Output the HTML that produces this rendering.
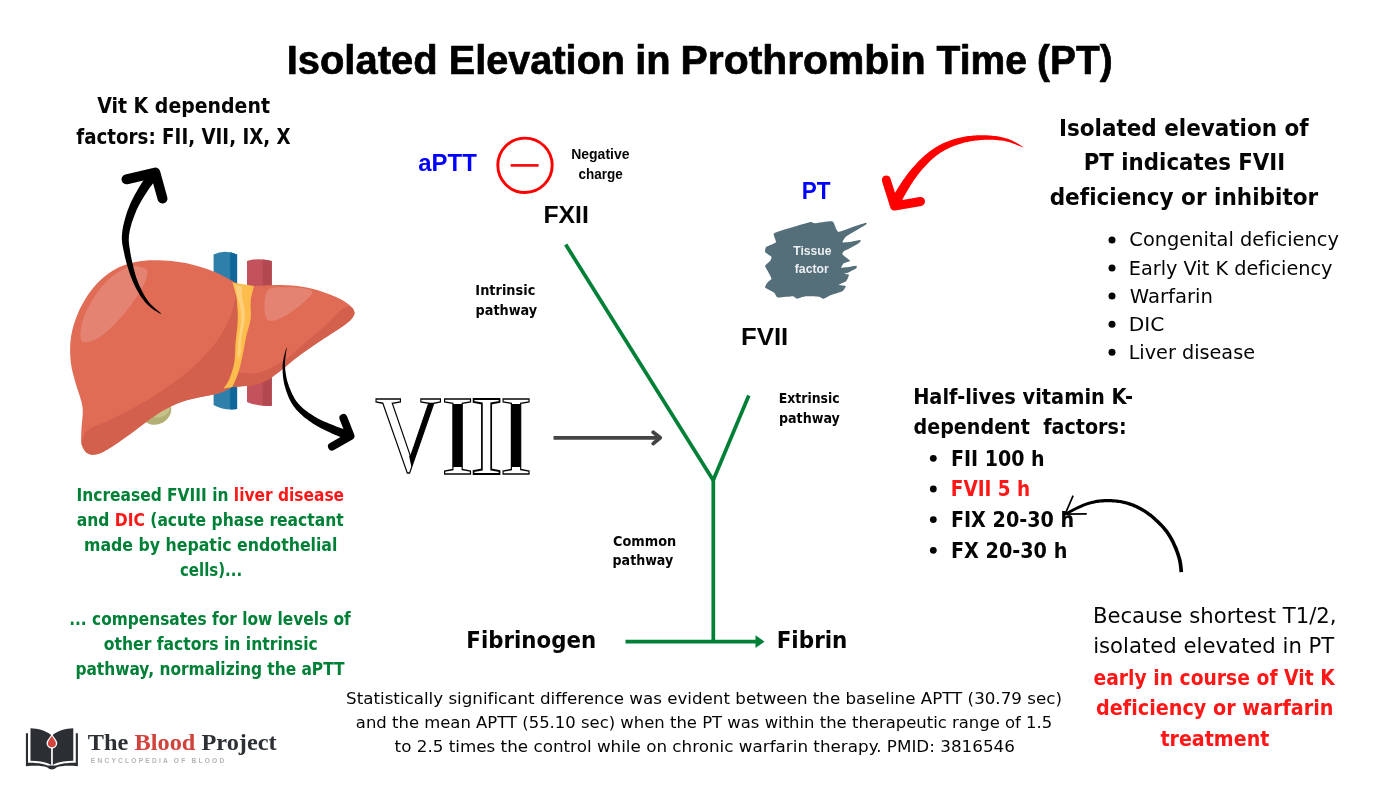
<!DOCTYPE html>
<html lang="en"><head><meta charset="utf-8">
<title>Isolated Elevation in Prothrombin Time (PT)</title>
<style>html,body{margin:0;padding:0;background:#fff;}body{width:1400px;height:788px;overflow:hidden;}svg{display:block;}text{white-space:pre;font-variant-ligatures:none;font-kerning:normal;}</style>
</head><body>
<svg width="1400" height="788" viewBox="0 0 1400 788">
<rect width="1400" height="788" fill="#ffffff"/>
<g id="liver">
<path d="M213.6 254.5Q225 249 237.1 254.5L237.1 409Q225 411 213.6 405Z" fill="#2f7fab"/>
<path d="M230.2 252L237.1 254.5L237.1 409L230.2 409.5Z" fill="#10669a"/>
<path d="M247 261Q259 257.5 271.8 261L271.8 405.7Q259 407 247 402Z" fill="#c4525c"/>
<path d="M262.6 259.5L271.8 261L271.8 405.7L262.6 405.5Z" fill="#b24850"/>
<ellipse cx="157" cy="412" rx="15" ry="12" fill="#b3ae74" transform="rotate(-30 157 412)"/>
<ellipse cx="160" cy="408" rx="11" ry="9" fill="#c6c28c" transform="rotate(-30 160 408)"/>
<path d="M235.5 282.6C231.8 280.8 221.8 274.8 213.5 271.5C205.2 268.2 194.9 265 185.6 263.1C176.3 261.2 166.1 260.4 157.7 260.2C149.3 260 142.8 260.3 135.4 262C128 263.7 120 266.2 113 270.5C106 274.8 99.2 280.6 93.5 287.5C87.8 294.4 82.2 303.7 78.5 312C74.8 320.3 72.3 328.7 71 337.1C69.7 345.5 70 354.3 70.8 362.2C71.6 370.1 74 377.1 76 384.5C78 391.9 81.6 399.4 82.5 406.9C83.4 414.3 81.7 423 81.5 429.2C81.3 435.4 80.6 440 81.5 444C82.4 448 84.4 451.3 87 453C89.6 454.7 92.9 455.3 97 454.3C101.1 453.3 105.5 450.7 111.5 447C117.5 443.3 125.7 437.3 133 432C140.3 426.7 148.1 419.9 155.5 415.2C162.9 410.4 169.9 406.5 177.2 403.5C184.5 400.5 192.5 399 199.5 397.3C206.5 395.6 213.6 394.9 219 393.2C224.4 391.5 229.8 388 232 387L240 340Z" fill="#e06c55"/>
<path d="M234.5 282.3C234.6 285.2 236.1 293.4 235 300C233.9 306.6 231.5 314.5 228 322C224.5 329.5 220.3 337 214 345C207.7 353 199 362.2 190 370C181 377.8 170 385.3 160 392C150 398.7 139.2 405 130 410C120.8 415 112 418.7 105 422C98 425.3 91.8 427 88 430C84.2 433 83.4 438.3 82.5 440L81.5 444C82.4 445.5 84.4 451.3 87 453C89.6 454.7 92.9 455.3 97 454.3C101.1 453.3 105.5 450.7 111.5 447C117.5 443.3 125.7 437.3 133 432C140.3 426.7 148.1 419.9 155.5 415.2C162.9 410.4 169.9 406.5 177.2 403.5C184.5 400.5 192.5 399 199.5 397.3C206.5 395.6 213.6 394.9 219 393.2C224.4 391.5 229.8 388 232 387L240 340L236 283Z" fill="#d2604c"/>
<path d="M145 268.5C141.8 267.3 134.8 264.4 128 267C121.2 269.6 111 276.5 104 284C97 291.5 89.9 303.7 86 312C82.1 320.3 80.7 328.9 80.5 334C80.3 339.1 81.1 342.5 85 342.5C88.9 342.5 96.8 339.6 104 334C111.2 328.4 121.5 317 128 309C134.5 301 139.8 291.8 143 286C146.2 280.2 146.7 276.9 147 274C147.3 271.1 148.2 269.7 145 268.5Z" fill="#e58373"/>
<path d="M240 285.5C242.2 285.6 247 286.1 252.9 286C258.8 285.9 268.1 284.9 275.5 284.9C282.9 284.9 289.9 285.1 297.1 286C304.3 286.9 311.5 288.3 318.7 290.5C325.9 292.7 334.8 296.3 340.2 299C345.6 301.7 348.6 304.2 351 306.5C353.4 308.8 354.6 310.9 354.6 313C354.6 315.1 353.4 316.9 351 319.4C348.6 321.9 345.6 324.3 340.2 328.1C334.8 331.9 325.9 337.2 318.7 342.1C311.5 347 303.2 352.6 297.1 357.2C291 361.8 286.7 365.9 282 369.5C277.3 373.1 273.7 376.4 269 379C264.3 381.6 260 383.7 253.9 385C247.8 386.3 236 386.7 232.4 387Z" fill="#e06c55"/>
<path d="M236 372C239.7 372.2 250.3 374.7 258 373C265.7 371.3 274.2 367 282 362C289.8 357 297.5 349.3 305 343C312.5 336.7 321 329.5 327 324C333 318.5 337.5 312.9 341 310C344.5 307.1 346.1 306.8 348 306.5C349.9 306.2 351.8 307.8 352.5 308L354.6 313C354 314.1 353.4 316.9 351 319.4C348.6 321.9 345.6 324.3 340.2 328.1C334.8 331.9 325.9 337.2 318.7 342.1C311.5 347 303.2 352.6 297.1 357.2C291 361.8 286.7 365.9 282 369.5C277.3 373.1 273.7 376.4 269 379C264.3 381.6 260 383.7 253.9 385C247.8 386.3 236 386.7 232.4 387Z" fill="#d2604c"/>
<path d="M268 290C271.8 286.4 280.5 287.5 287 287.3C293.5 287.1 302.8 288 307 289C311.2 290 313.5 290.5 312 293.5C310.5 296.5 303 303 298 307C293 311 286.9 315.2 282 317.5C277.1 319.8 271.4 321.9 268.5 320.5C265.6 319.1 264.6 314.1 264.5 309C264.4 303.9 264.2 293.6 268 290Z" fill="#e58373"/>
<path d="M232.4 282.5C233.1 285.2 235.8 292.6 236.7 298.9C237.6 305.2 238 313.3 237.8 320.5C237.6 327.7 236.2 335.3 235.6 342.1C235 348.9 235.5 355.4 234.5 361.5C233.5 367.6 231.3 374.3 229.5 378.8C227.7 383.3 224.5 386.9 223.5 388.5L232.4 387C233.4 384.6 236.7 378 238.5 372.3C240.3 366.6 241.8 359 243.1 352.9C244.4 346.8 245.1 341.4 246.4 335.6C247.7 329.9 250 324.1 250.7 318.4C251.4 312.6 250.2 306.5 250.7 301.1C251.2 295.7 253.4 288.5 253.9 286Z" fill="#fdbd4c"/>
<path d="M235 285L242 286.5Q241 296 244 306Q246 318 243 330Q240 342 241 352L238 360Q237 345 240 330Q242 318 240 306Q237 296 235 285Z" fill="#fed07c"/>
</g>
<path d="M161.3 313.9L160.6 313L159.5 312L158.2 310.9L156.7 309.7L155.2 308.4L153.6 307L152 305.5L150.4 303.9L149 302.3L147.7 300.6L146.5 298.8L145.2 296.8L144 294.8L142.8 292.6L141.7 290.4L140.6 288.1L139.5 285.7L138.4 283.2L137.5 280.7L136.5 278.2L135.6 275.4L134.8 272.5L133.9 269.4L133.2 266.3L132.4 263L131.7 259.8L131.1 256.7L130.5 253.7L130.1 251L129.7 248.4L129.3 246.2L129.1 244.3L128.9 242.5L128.8 240.9L128.8 239.4L128.8 238L128.9 236.6L129 235.1L129.3 233.4L129.6 231.6L130 229.6L130.5 227.5L131.1 225.3L131.7 223.1L132.5 220.8L133.3 218.5L134.1 216.2L135 213.9L135.9 211.7L136.8 209.6L137.8 207.6L138.8 205.5L139.9 203.5L141 201.4L142.2 199.4L143.4 197.4L144.6 195.5L145.8 193.7L146.9 192L147.9 190.4L148.8 189L149.7 187.7L150.6 186.5L151.5 185.4L152.3 184.3L153.1 183.3L153.8 182.4L154.6 181.5L155.2 180.7L155.8 179.9L156.3 179.3L156.7 178.9L157 178.5L157.2 178.2L157.4 178.1L157.5 177.9L157.7 177.8L157.8 177.6L158 177.4L158.2 177.2L150.8 170.8L150.7 170.9L150.7 170.9L150.6 171.1L150.4 171.3L150.1 171.6L149.8 171.9L149.5 172.3L149.1 172.8L148.6 173.4L148.2 174.1L147.6 174.8L147 175.6L146.4 176.5L145.6 177.5L144.8 178.6L143.9 179.8L143 181.1L142 182.5L141.1 184L140.1 185.6L139.1 187.2L138.1 189L137 190.9L135.8 193L134.6 195.1L133.5 197.3L132.3 199.5L131.2 201.8L130.2 204.1L129.2 206.4L128.3 208.7L127.4 211.1L126.6 213.5L125.8 216L125.1 218.5L124.4 221L123.8 223.4L123.2 225.8L122.8 228.2L122.4 230.4L122.2 232.5L122 234.4L121.9 236.2L121.8 237.9L121.9 239.7L122 241.4L122.2 243.3L122.5 245.2L122.9 247.3L123.3 249.6L123.9 252.1L124.5 255L125.2 258L126 261.2L126.9 264.4L127.9 267.7L128.9 270.9L129.9 274.1L131 277L132.1 279.8L133.2 282.5L134.4 285L135.6 287.5L136.9 289.9L138.3 292.3L139.6 294.5L141 296.7L142.4 298.7L143.9 300.6L145.3 302.4L146.9 304.1L148.6 305.8L150.4 307.3L152.2 308.7L154 309.9L155.8 311L157.4 312L158.8 312.9L160.1 313.6L161.1 314.1Z" fill="#000"/>
<path d="M126.5 179.3L155.3 172.6L162.5 198.5" fill="none" stroke="#000" stroke-width="10" stroke-linecap="round" stroke-linejoin="round"/>
<path d="M286.4 347.8L286 348.8L285.7 350.1L285.2 351.7L284.8 353.4L284.3 355.3L283.8 357.3L283.4 359.4L283 361.5L282.8 363.5L282.6 365.5L282.6 367.4L282.6 369.3L282.6 371.3L282.7 373.3L282.9 375.3L283.1 377.4L283.4 379.4L283.7 381.5L284.1 383.5L284.6 385.6L285.2 387.6L285.8 389.7L286.5 391.8L287.3 393.9L288.1 396L289 398.2L290 400.3L291.1 402.3L292.3 404.3L293.6 406.2L295 408.1L296.5 409.9L298.1 411.6L299.8 413.2L301.5 414.8L303.3 416.4L305.1 417.9L307 419.3L308.9 420.7L310.8 422.1L312.8 423.5L314.9 424.8L317 426L319.2 427.2L321.5 428.4L323.6 429.5L325.7 430.5L327.8 431.4L329.6 432.3L331.4 433.2L333.1 434L334.7 434.7L336.3 435.3L337.8 435.9L339.2 436.4L340.4 436.9L341.6 437.3L342.7 437.7L343.6 438.1L344.5 438.4L345.2 438.7L345.8 439L346.3 439.2L346.7 439.4L347 439.5L347.2 439.6L347.5 439.8L347.7 439.9L347.9 440L348.2 440.1L351.8 431.9L351.7 431.8L351.5 431.8L351.3 431.7L351 431.5L350.6 431.4L350.2 431.2L349.7 431L349.1 430.8L348.4 430.5L347.5 430.2L346.6 429.9L345.5 429.5L344.4 429.2L343.2 428.8L341.9 428.4L340.6 428L339.2 427.5L337.7 427L336.2 426.5L334.6 425.8L332.8 425.1L330.9 424.3L328.9 423.5L326.8 422.6L324.6 421.7L322.5 420.7L320.4 419.7L318.3 418.7L316.3 417.6L314.4 416.5L312.6 415.3L310.8 414.1L308.9 412.9L307.1 411.6L305.4 410.2L303.7 408.9L302.1 407.4L300.6 406L299.1 404.5L297.8 403L296.6 401.4L295.4 399.7L294.3 397.9L293.3 396.1L292.3 394.2L291.4 392.2L290.6 390.3L289.8 388.3L289 386.4L288.4 384.4L287.7 382.6L287.2 380.7L286.7 378.8L286.3 376.8L286 374.9L285.7 373L285.4 371.1L285.2 369.2L285.1 367.3L285 365.5L285 363.6L285 361.7L285.2 359.6L285.4 357.6L285.7 355.6L285.9 353.6L286.2 351.9L286.4 350.3L286.6 348.9L286.6 347.8Z" fill="#000"/>
<path d="M343.4 418L350.5 436L332 446.5" fill="none" stroke="#000" stroke-width="8" stroke-linecap="round" stroke-linejoin="round"/>
<path d="M1023.1 147L1022.3 146.4L1021.3 145.7L1020 144.9L1018.7 144.1L1017.1 143.2L1015.5 142.3L1013.8 141.4L1012.1 140.6L1010.4 139.8L1008.8 139.2L1007.2 138.6L1005.6 138.2L1003.9 137.7L1002.2 137.3L1000.5 137L998.8 136.6L997.1 136.3L995.4 136.1L993.7 135.9L992.1 135.7L990.4 135.5L988.7 135.4L987 135.3L985.3 135.2L983.7 135.2L982 135.2L980.3 135.2L978.6 135.3L976.9 135.3L975.2 135.4L973.6 135.6L971.9 135.7L970.2 135.9L968.5 136.1L966.8 136.3L965.1 136.6L963.3 136.9L961.6 137.3L959.9 137.7L958.2 138.1L956.4 138.5L954.7 139L953 139.6L951.2 140.1L949.5 140.7L947.7 141.4L946 142.1L944.3 142.8L942.5 143.6L940.8 144.4L939.2 145.3L937.6 146.2L935.9 147.2L934.3 148.2L932.8 149.2L931.2 150.3L929.6 151.5L928 152.7L926.5 154L924.9 155.3L923.3 156.7L921.7 158.2L920.1 159.7L918.5 161.3L916.9 163L915.4 164.7L913.8 166.4L912.3 168.1L910.8 169.9L909.3 171.6L907.9 173.5L906.4 175.5L905 177.5L903.5 179.5L902.1 181.6L900.8 183.6L899.6 185.5L898.4 187.3L897.3 189L896.4 190.6L895.5 192L894.7 193.4L894 194.7L893.5 195.9L893 197L892.5 197.9L892.2 198.8L891.9 199.5L891.6 200L891.4 200.5L900.6 204.5L900.8 203.9L901.1 203.2L901.4 202.5L901.7 201.7L902 200.9L902.4 200L902.8 199L903.3 197.9L903.9 196.7L904.6 195.4L905.5 194L906.5 192.3L907.5 190.5L908.7 188.5L909.9 186.6L911.1 184.5L912.4 182.5L913.7 180.6L915 178.7L916.3 177L917.5 175.3L918.9 173.5L920.2 171.8L921.6 170.2L923 168.5L924.5 166.9L925.9 165.4L927.3 163.9L928.7 162.4L930.1 161.1L931.5 159.8L932.9 158.6L934.3 157.4L935.6 156.3L937 155.3L938.4 154.2L939.8 153.3L941.2 152.3L942.7 151.4L944.2 150.6L945.6 149.7L947.2 148.9L948.7 148.2L950.2 147.5L951.8 146.8L953.4 146.2L955 145.6L956.6 145L958.2 144.4L959.8 143.9L961.4 143.4L963 143L964.6 142.6L966.2 142.2L967.7 141.9L969.3 141.6L970.9 141.3L972.5 141L974.1 140.8L975.8 140.6L977.4 140.4L979 140.2L980.6 140L982.2 139.9L983.7 139.8L985.3 139.7L986.9 139.7L988.5 139.7L990.1 139.7L991.7 139.7L993.4 139.8L995 139.9L996.7 140L998.3 140.2L1000 140.4L1001.6 140.6L1003.3 140.8L1004.9 141.1L1006.4 141.5L1008 141.8L1009.6 142.3L1011.2 142.8L1012.9 143.4L1014.6 144.1L1016.3 144.8L1018 145.5L1019.5 146.1L1020.8 146.6L1022 147L1022.9 147.2Z" fill="#ff0000"/>
<path d="M886.3 180L894.5 206L920.5 201.5" fill="none" stroke="#ff0000" stroke-width="9" stroke-linecap="round" stroke-linejoin="round"/>
<path d="M774 233.5C775.5 232.2 790 228.1 793.1 227.1C796.1 226.2 809 222.4 810.8 222.1C812.6 221.7 812.8 223.4 814.6 223.3C816.4 223.3 830.6 220.9 832.4 221.4C834.2 221.9 835.7 228.2 836.2 229C836.7 229.9 837.5 232 838.7 231.8C840 231.7 849.2 228.1 851.4 227.4C853.6 226.6 863.9 223.2 865.1 222.9C866.4 222.7 867.1 223.6 866.4 224.2C865.7 224.8 858.2 229.2 856.5 230.3C854.8 231.4 846.9 235.9 845.7 236.9C844.5 237.9 842.1 241.9 842.5 242.3C843 242.7 849.9 241.9 851.4 241.7C852.9 241.5 859.6 240 860.3 240.1C861 240.1 860.4 241.9 859.7 242.5C858.9 243.1 852.7 246.7 851.4 247.4C850.1 248.2 844.5 250.6 843.8 251.2C843.1 251.8 842 253.6 842.5 254.4C843.1 255.2 850 260 850.1 260.7C850.2 261.5 844.5 262.7 843.8 263.3C843.1 263.9 840.8 267.4 841.3 267.7C841.7 268 847.6 267.2 848.9 267.1C850.1 266.9 855.9 265.7 856.5 265.8C857.1 265.9 856.6 268 856 268.5C855.3 269 849.9 271.7 848.9 272.2C847.9 272.6 843.8 273.9 843.8 274.1C843.8 274.3 848.7 274.1 848.9 274.7C849.1 275.3 847.2 280.2 846.3 281C845.5 281.9 838.8 284.4 838.7 284.8C838.7 285.3 845.4 285.6 845.7 286.1C846 286.6 843.7 290.4 842.5 291.2C841.3 291.9 832.7 294.4 831.1 295C829.5 295.6 824.5 298.6 823.5 298.8C822.6 299 821.2 297.1 819.7 296.9C818.2 296.7 807.6 296.1 805.7 296.3C803.8 296.4 797.9 298.8 796.9 298.8C795.8 298.8 794.6 296.4 793.1 296.3C791.5 296.2 779.4 297.8 777.8 297.5C776.2 297.2 775.1 293.3 774 292.5C773 291.6 765.7 288.2 765.1 287.4C764.6 286.5 767.2 283 767.7 282.3C768.2 281.6 771.5 279.5 771.5 278.5C771.5 277.6 768.2 271.9 767.7 270.9C767.2 269.8 764.9 266.7 765.1 265.8C765.4 265 769.7 261.5 770.2 260.7C770.8 260 771.9 257.7 771.5 256.9C771.1 256.2 765.6 252.7 765.1 251.9C764.7 251 765.5 247.6 766.4 246.8C767.3 246 775.3 243.5 775.9 242.3C776.6 241.2 772.6 234.7 774 233.5Z" fill="#546e7a"/>
<text id="t_Tissue_255" x="793.21" y="254.7" textLength="38.23" lengthAdjust="spacingAndGlyphs" font-family='"Liberation Sans", Arial, sans-serif' font-size="12.8" font-weight="bold" fill="#eceff1">Tissue</text>
<text id="t_factor_273" x="794.77" y="272.8" textLength="34.05" lengthAdjust="spacingAndGlyphs" font-family='"Liberation Sans", Arial, sans-serif' font-size="12.8" font-weight="bold" fill="#eceff1">factor</text>
<g fill="none" stroke="#008037" stroke-width="3.7">
<path d="M565.7 244.6L713.2 480.3L748.8 395.5"/>
<path d="M713.3 478L713.3 641.7"/>
<path d="M625.5 641.7L756 641.7"/>
</g>
<path d="M755.5 635.3L764.5 641.7L755.5 648Z" fill="#008037"/>
<path d="M553.5 437.8L659.5 437.8" fill="none" stroke="#444444" stroke-width="3.8"/>
<path d="M653.2 432.2L660.2 437.8L653.2 443.6" fill="none" stroke="#444444" stroke-width="3.8" stroke-linecap="round" stroke-linejoin="round"/>
<circle cx="525" cy="165.3" r="27.2" fill="none" stroke="#ff0000" stroke-width="2.9"/>
<path d="M510.6 165.4L538.6 165.4" stroke="#ff0000" stroke-width="2.6"/>
<path d="M1065.7 515.4L1066.7 514.9L1068.1 514.2L1069.6 513.4L1071.4 512.5L1073.3 511.5L1075.2 510.5L1077.2 509.6L1079.1 508.7L1080.9 507.9L1082.5 507.2L1084 506.6L1085.4 506L1086.8 505.6L1088.1 505.1L1089.5 504.7L1090.8 504.3L1092.1 504L1093.4 503.7L1094.7 503.4L1096.1 503.1L1097.4 502.9L1098.8 502.7L1100.2 502.6L1101.5 502.5L1102.9 502.4L1104.3 502.3L1105.6 502.3L1107 502.3L1108.4 502.3L1109.8 502.3L1111.1 502.3L1112.5 502.4L1113.9 502.5L1115.3 502.6L1116.6 502.8L1118 502.9L1119.4 503.1L1120.7 503.3L1122.1 503.6L1123.4 503.9L1124.8 504.2L1126.2 504.6L1127.5 505L1128.9 505.4L1130.2 505.9L1131.6 506.3L1132.9 506.9L1134.2 507.4L1135.6 508L1136.9 508.7L1138.3 509.4L1139.7 510.2L1141 510.9L1142.4 511.8L1143.8 512.6L1145.1 513.5L1146.5 514.5L1147.9 515.5L1149.2 516.5L1150.6 517.6L1152 518.8L1153.4 520.1L1154.9 521.4L1156.4 522.8L1157.8 524.2L1159.3 525.7L1160.6 527.1L1162 528.6L1163.2 530L1164.3 531.4L1165.4 532.7L1166.3 534.1L1167.2 535.4L1168 536.7L1168.8 538.1L1169.6 539.4L1170.3 540.8L1171 542.1L1171.7 543.5L1172.4 545L1173 546.4L1173.7 547.9L1174.3 549.5L1174.9 551L1175.5 552.6L1176.1 554.2L1176.6 555.7L1177 557.2L1177.5 558.7L1177.8 560.1L1178.1 561.4L1178.4 562.8L1178.6 564.2L1178.8 565.6L1179 567L1179.1 568.3L1179.2 569.5L1179.3 570.6L1179.4 571.6L1179.5 572.3L1183.1 571.9L1183.1 571.2L1183 570.3L1182.9 569.2L1182.8 568L1182.6 566.6L1182.5 565.2L1182.3 563.7L1182 562.2L1181.7 560.6L1181.4 559.1L1181 557.7L1180.5 556.2L1180 554.6L1179.5 553L1178.9 551.4L1178.3 549.7L1177.7 548.1L1177 546.5L1176.3 545L1175.6 543.4L1174.9 542L1174.2 540.5L1173.5 539.1L1172.7 537.7L1171.9 536.3L1171.1 534.9L1170.2 533.5L1169.2 532L1168.2 530.6L1167.1 529.2L1165.9 527.7L1164.6 526.3L1163.2 524.8L1161.8 523.3L1160.3 521.8L1158.8 520.3L1157.3 518.9L1155.7 517.5L1154.3 516.2L1152.8 515L1151.4 513.8L1149.9 512.7L1148.5 511.7L1147.1 510.7L1145.6 509.8L1144.2 508.9L1142.7 508L1141.3 507.2L1139.9 506.4L1138.5 505.7L1137 505L1135.6 504.4L1134.2 503.8L1132.7 503.2L1131.3 502.7L1129.9 502.2L1128.4 501.8L1127 501.4L1125.6 501L1124.2 500.7L1122.7 500.4L1121.3 500.1L1119.9 499.9L1118.4 499.7L1117 499.5L1115.5 499.4L1114.1 499.3L1112.7 499.2L1111.3 499.1L1109.8 499.1L1108.4 499.1L1107 499.1L1105.6 499.1L1104.1 499.1L1102.7 499.2L1101.3 499.3L1099.8 499.4L1098.4 499.6L1097 499.8L1095.5 500.1L1094.1 500.4L1092.7 500.7L1091.3 501L1090 501.4L1088.6 501.8L1087.2 502.2L1085.8 502.7L1084.3 503.2L1082.9 503.8L1081.3 504.4L1079.7 505.2L1077.8 506L1075.9 507L1073.9 508L1072 509L1070.1 510L1068.3 510.9L1066.8 511.8L1065.5 512.5L1064.5 513Z" fill="#000"/>
<path d="M1073.1 495.6L1065.1 514.2L1086.8 513.8" fill="none" stroke="#000" stroke-width="1.7"/>
<defs>
<linearGradient id="gStem" gradientUnits="userSpaceOnUse" x1="0" y1="398" x2="0" y2="474"><stop offset="0" stop-color="#fff"/><stop offset="0.083" stop-color="#fff"/><stop offset="0.083" stop-color="#000"/><stop offset="0.912" stop-color="#000"/><stop offset="0.912" stop-color="#fff"/><stop offset="1" stop-color="#fff"/></linearGradient>
<pattern id="pV" patternUnits="userSpaceOnUse" x="0" y="0" width="1400" height="788"><rect x="360" y="380" width="100" height="110" fill="#fff"/><path d="M409.2 456.8L411.5 467.3L440 402.8L428 402.8Z" fill="#000"/></pattern>
</defs>
<g font-family='"Liberation Serif", "Times New Roman", serif' font-size="114.5" stroke="#000" stroke-width="1.4">
<text x="375" y="471" textLength="66.5" lengthAdjust="spacingAndGlyphs" font-size="111" fill="url(#pV)">V</text>
<text x="441" y="473.7" textLength="33" lengthAdjust="spacingAndGlyphs" fill="url(#gStem)">I</text>
<text x="470" y="473.7" textLength="33" lengthAdjust="spacingAndGlyphs" fill="#fff" stroke-width="2">I</text>
<text x="499.5" y="473.7" textLength="33" lengthAdjust="spacingAndGlyphs" fill="url(#gStem)">I</text>
</g>
<text id="t_Isolated_74" x="286.73" y="73.9" textLength="150.79" lengthAdjust="spacingAndGlyphs" font-family='"Liberation Sans", Arial, sans-serif' font-size="41" font-weight="bold" fill="#000" stroke="#000" stroke-width="0.7" stroke-linejoin="round">Isolated</text>
<text id="t_Elevation_74" x="448.8" y="73.9" textLength="176.28" lengthAdjust="spacingAndGlyphs" font-family='"Liberation Sans", Arial, sans-serif' font-size="41" font-weight="bold" fill="#000" stroke="#000" stroke-width="0.7" stroke-linejoin="round">Elevation</text>
<text id="t_in_74" x="635.13" y="73.9" textLength="35.38" lengthAdjust="spacingAndGlyphs" font-family='"Liberation Sans", Arial, sans-serif' font-size="41" font-weight="bold" fill="#000" stroke="#000" stroke-width="0.7" stroke-linejoin="round">in</text>
<text id="t_Prothrombin_74" x="680.55" y="73.9" textLength="245.04" lengthAdjust="spacingAndGlyphs" font-family='"Liberation Sans", Arial, sans-serif' font-size="41" font-weight="bold" fill="#000" stroke="#000" stroke-width="0.7" stroke-linejoin="round">Prothrombin</text>
<text id="t_Time_74" x="936.56" y="73.9" textLength="90.28" lengthAdjust="spacingAndGlyphs" font-family='"Liberation Sans", Arial, sans-serif' font-size="41" font-weight="bold" fill="#000" stroke="#000" stroke-width="0.7" stroke-linejoin="round">Time</text>
<text id="t_PT_74" x="1037.04" y="73.9" textLength="75.55" lengthAdjust="spacingAndGlyphs" font-family='"Liberation Sans", Arial, sans-serif' font-size="41" font-weight="bold" fill="#000" stroke="#000" stroke-width="0.7" stroke-linejoin="round">(PT)</text>
<text id="t_VitKdependent_113" x="97.19" y="113.4" textLength="172.74" lengthAdjust="spacingAndGlyphs" font-family='"DejaVu Sans", "Liberation Sans", sans-serif' font-size="21" font-weight="bold" fill="#050505">Vit K dependent</text>
<text id="t_factorsFIIVIIIXX_144" x="76.3" y="143.9" textLength="214.34" lengthAdjust="spacingAndGlyphs" font-family='"DejaVu Sans", "Liberation Sans", sans-serif' font-size="21" font-weight="bold" fill="#050505">factors: FII, VII, IX, X</text>
<text id="t_aPTT_171" x="418.29" y="170.6" textLength="58.48" lengthAdjust="spacingAndGlyphs" font-family='"Liberation Sans", Arial, sans-serif' font-size="23.5" font-weight="bold" fill="#0000ff">aPTT</text>
<text id="t_Negative_159" x="571.22" y="159" textLength="58.26" lengthAdjust="spacingAndGlyphs" font-family='"Liberation Sans", Arial, sans-serif' font-size="14.3" font-weight="bold" fill="#050505">Negative</text>
<text id="t_charge_179" x="578.55" y="179" textLength="44.35" lengthAdjust="spacingAndGlyphs" font-family='"Liberation Sans", Arial, sans-serif' font-size="14.3" font-weight="bold" fill="#050505">charge</text>
<text id="t_FXII_223" x="543.41" y="223" textLength="45.36" lengthAdjust="spacingAndGlyphs" font-family='"Liberation Sans", Arial, sans-serif' font-size="23.5" font-weight="bold" fill="#050505">FXII</text>
<text id="t_PT_199" x="801.8" y="199.3" textLength="28.81" lengthAdjust="spacingAndGlyphs" font-family='"Liberation Sans", Arial, sans-serif' font-size="23.5" font-weight="bold" fill="#0000ff">PT</text>
<text id="t_FVII_344" x="741.02" y="344.5" textLength="47.23" lengthAdjust="spacingAndGlyphs" font-family='"Liberation Sans", Arial, sans-serif' font-size="23.2" font-weight="bold" fill="#050505">FVII</text>
<text id="t_Intrinsic_295" x="475.34" y="295" textLength="60.03" lengthAdjust="spacingAndGlyphs" font-family='"DejaVu Sans", "Liberation Sans", sans-serif' font-size="13.6" font-weight="bold" fill="#050505">Intrinsic</text>
<text id="t_pathway_315" x="475.5" y="315" textLength="61.75" lengthAdjust="spacingAndGlyphs" font-family='"DejaVu Sans", "Liberation Sans", sans-serif' font-size="13.6" font-weight="bold" fill="#050505">pathway</text>
<text id="t_Extrinsic_402" x="778.72" y="402.5" textLength="60.93" lengthAdjust="spacingAndGlyphs" font-family='"DejaVu Sans", "Liberation Sans", sans-serif' font-size="13.6" font-weight="bold" fill="#050505">Extrinsic</text>
<text id="t_pathway_422" x="778.9" y="422.5" textLength="61.01" lengthAdjust="spacingAndGlyphs" font-family='"DejaVu Sans", "Liberation Sans", sans-serif' font-size="13.6" font-weight="bold" fill="#050505">pathway</text>
<text id="t_Common_546" x="612.93" y="546.4" textLength="63.3" lengthAdjust="spacingAndGlyphs" font-family='"DejaVu Sans", "Liberation Sans", sans-serif' font-size="13.6" font-weight="bold" fill="#050505">Common</text>
<text id="t_pathway_565" x="612.58" y="565.3" textLength="60.65" lengthAdjust="spacingAndGlyphs" font-family='"DejaVu Sans", "Liberation Sans", sans-serif' font-size="13.6" font-weight="bold" fill="#050505">pathway</text>
<text id="t_Fibrinogen_648" x="466.35" y="648" textLength="129.79" lengthAdjust="spacingAndGlyphs" font-family='"DejaVu Sans", "Liberation Sans", sans-serif' font-size="22.5" font-weight="bold" fill="#050505">Fibrinogen</text>
<text id="t_Fibrin_648" x="776.7" y="648" textLength="70.71" lengthAdjust="spacingAndGlyphs" font-family='"DejaVu Sans", "Liberation Sans", sans-serif' font-size="22.5" font-weight="bold" fill="#050505">Fibrin</text>
<text id="t_IncreasedFVIIIinliverdis_501" x="76.57" y="501" textLength="267.52" lengthAdjust="spacingAndGlyphs" font-family='"DejaVu Sans", "Liberation Sans", sans-serif' font-size="17.1" font-weight="bold" fill="#008037"><tspan fill="#008037">Increased FVIII in </tspan><tspan fill="#ff1616">liver disease</tspan></text>
<text id="t_andDICacutephasereactant_526" x="76.69" y="525.9" textLength="267.02" lengthAdjust="spacingAndGlyphs" font-family='"DejaVu Sans", "Liberation Sans", sans-serif' font-size="17.1" font-weight="bold" fill="#008037"><tspan fill="#008037">and </tspan><tspan fill="#ff1616">DIC</tspan><tspan fill="#008037"> (acute phase reactant</tspan></text>
<text id="t_madebyhepaticendothelial_551" x="83.98" y="551.2" textLength="253.45" lengthAdjust="spacingAndGlyphs" font-family='"DejaVu Sans", "Liberation Sans", sans-serif' font-size="17.1" font-weight="bold" fill="#008037">made by hepatic endothelial</text>
<text id="t_cells_576" x="179.94" y="575.5" textLength="62.26" lengthAdjust="spacingAndGlyphs" font-family='"DejaVu Sans", "Liberation Sans", sans-serif' font-size="17.1" font-weight="bold" fill="#008037">cells)...</text>
<text id="t_compensatesforlowlevelso_625" x="69.16" y="625.1" textLength="281.6" lengthAdjust="spacingAndGlyphs" font-family='"DejaVu Sans", "Liberation Sans", sans-serif' font-size="17.1" font-weight="bold" fill="#008037">... compensates for low levels of</text>
<text id="t_otherfactorsinintrinsic_650" x="103.8" y="650" textLength="213.97" lengthAdjust="spacingAndGlyphs" font-family='"DejaVu Sans", "Liberation Sans", sans-serif' font-size="17.1" font-weight="bold" fill="#008037">other factors in intrinsic</text>
<text id="t_pathwaynormalizingtheaPT_675" x="75.42" y="675.1" textLength="269.15" lengthAdjust="spacingAndGlyphs" font-family='"DejaVu Sans", "Liberation Sans", sans-serif' font-size="17.1" font-weight="bold" fill="#008037">pathway, normalizing the aPTT</text>
<text id="t_Isolatedelevationof_136" x="1058.98" y="135.5" textLength="249.7" lengthAdjust="spacingAndGlyphs" font-family='"DejaVu Sans", "Liberation Sans", sans-serif' font-size="23.6" font-weight="bold" fill="#050505">Isolated elevation of</text>
<text id="t_PTindicatesFVII_170" x="1083.68" y="169.5" textLength="201.57" lengthAdjust="spacingAndGlyphs" font-family='"DejaVu Sans", "Liberation Sans", sans-serif' font-size="23.6" font-weight="bold" fill="#050505">PT indicates FVII</text>
<text id="t_deficiencyorinhibitor_204" x="1049.67" y="204.5" textLength="268.55" lengthAdjust="spacingAndGlyphs" font-family='"DejaVu Sans", "Liberation Sans", sans-serif' font-size="23.6" font-weight="bold" fill="#050505">deficiency or inhibitor</text>
<circle cx="1112" cy="239.9" r="3.5" fill="#050505"/>
<text id="t_Congenitaldeficiency_246" x="1129.36" y="246.45" textLength="209.53" lengthAdjust="spacingAndGlyphs" font-family='"DejaVu Sans", "Liberation Sans", sans-serif' font-size="19.3" font-weight="normal" fill="#050505">Congenital deficiency</text>
<circle cx="1112" cy="268.1" r="3.5" fill="#050505"/>
<text id="t_EarlyVitKdeficiency_275" x="1128.74" y="274.55" textLength="203.8" lengthAdjust="spacingAndGlyphs" font-family='"DejaVu Sans", "Liberation Sans", sans-serif' font-size="19.3" font-weight="normal" fill="#050505">Early Vit K deficiency</text>
<circle cx="1112" cy="296.1" r="3.5" fill="#050505"/>
<text id="t_Warfarin_303" x="1129.81" y="302.65" textLength="83.1" lengthAdjust="spacingAndGlyphs" font-family='"DejaVu Sans", "Liberation Sans", sans-serif' font-size="19.3" font-weight="normal" fill="#050505">Warfarin</text>
<circle cx="1112" cy="324.2" r="3.5" fill="#050505"/>
<text id="t_DIC_331" x="1128.74" y="330.75" textLength="35.67" lengthAdjust="spacingAndGlyphs" font-family='"DejaVu Sans", "Liberation Sans", sans-serif' font-size="19.3" font-weight="normal" fill="#050505">DIC</text>
<circle cx="1112" cy="352.3" r="3.5" fill="#050505"/>
<text id="t_Liverdisease_359" x="1128.67" y="358.85" textLength="126.32" lengthAdjust="spacingAndGlyphs" font-family='"DejaVu Sans", "Liberation Sans", sans-serif' font-size="19.3" font-weight="normal" fill="#050505">Liver disease</text>
<text id="t_HalflivesvitaminK_404" x="913.13" y="403.8" textLength="219.83" lengthAdjust="spacingAndGlyphs" font-family='"DejaVu Sans", "Liberation Sans", sans-serif' font-size="20.6" font-weight="bold" fill="#050505">Half-lives vitamin K-</text>
<text id="t_dependentfactors_434" x="913.47" y="434.3" textLength="213.09" lengthAdjust="spacingAndGlyphs" font-family='"DejaVu Sans", "Liberation Sans", sans-serif' font-size="20.6" font-weight="bold" fill="#050505">dependent  factors:</text>
<circle cx="933.3" cy="458.3" r="3.4" fill="#050505"/>
<text id="t_FII100h_466" x="950.96" y="465.5" textLength="93.69" lengthAdjust="spacingAndGlyphs" font-family='"DejaVu Sans", "Liberation Sans", sans-serif' font-size="20.6" font-weight="bold" fill="#050505">FII 100 h</text>
<circle cx="933.3" cy="489" r="3.4" fill="#050505"/>
<text id="t_FVII5h_496" x="950.85" y="496.17" textLength="79.39" lengthAdjust="spacingAndGlyphs" font-family='"DejaVu Sans", "Liberation Sans", sans-serif' font-size="20.6" font-weight="bold" fill="#ff1616">FVII 5 h</text>
<circle cx="933.3" cy="519.6" r="3.4" fill="#050505"/>
<text id="t_FIX2030h_527" x="950.9" y="526.84" textLength="123.25" lengthAdjust="spacingAndGlyphs" font-family='"DejaVu Sans", "Liberation Sans", sans-serif' font-size="20.6" font-weight="bold" fill="#050505">FIX 20-30 h</text>
<circle cx="933.3" cy="550.3" r="3.4" fill="#050505"/>
<text id="t_FX2030h_558" x="950.89" y="557.51" textLength="116.46" lengthAdjust="spacingAndGlyphs" font-family='"DejaVu Sans", "Liberation Sans", sans-serif' font-size="20.6" font-weight="bold" fill="#050505">FX 20-30 h</text>
<text id="t_BecauseshortestT12_623" x="1092.91" y="623.1" textLength="243.56" lengthAdjust="spacingAndGlyphs" font-family='"DejaVu Sans", "Liberation Sans", sans-serif' font-size="21.3" font-weight="normal" fill="#050505">Because shortest T1/2,</text>
<text id="t_isolatedelevatedinPT_653" x="1093.2" y="653.4" textLength="241.13" lengthAdjust="spacingAndGlyphs" font-family='"DejaVu Sans", "Liberation Sans", sans-serif' font-size="21.3" font-weight="normal" fill="#050505">isolated elevated in PT</text>
<text id="t_earlyincourseofVitK_684" x="1093.45" y="684.5" textLength="241.25" lengthAdjust="spacingAndGlyphs" font-family='"DejaVu Sans", "Liberation Sans", sans-serif' font-size="20.6" font-weight="bold" fill="#ff1616">early in course of Vit K</text>
<text id="t_deficiencyorwarfarin_715" x="1096.06" y="715" textLength="237.47" lengthAdjust="spacingAndGlyphs" font-family='"DejaVu Sans", "Liberation Sans", sans-serif' font-size="20.6" font-weight="bold" fill="#ff1616">deficiency or warfarin</text>
<text id="t_treatment_746" x="1160.44" y="745.5" textLength="108.87" lengthAdjust="spacingAndGlyphs" font-family='"DejaVu Sans", "Liberation Sans", sans-serif' font-size="20.6" font-weight="bold" fill="#ff1616">treatment</text>
<text id="t_Statisticallysignificant_704" x="346.11" y="703.8" textLength="715.78" lengthAdjust="spacingAndGlyphs" font-family='"DejaVu Sans", "Liberation Sans", sans-serif' font-size="16.7" font-weight="normal" fill="#050505">Statistically significant difference was evident between the baseline APTT (30.79 sec)</text>
<text id="t_andthemeanAPTT5510secwhe_728" x="355.86" y="728.1" textLength="696.42" lengthAdjust="spacingAndGlyphs" font-family='"DejaVu Sans", "Liberation Sans", sans-serif' font-size="16.7" font-weight="normal" fill="#050505">and the mean APTT (55.10 sec) when the PT was within the therapeutic range of 1.5</text>
<text id="t_to25timesthecontrolwhile_752" x="394.57" y="752.4" textLength="620.31" lengthAdjust="spacingAndGlyphs" font-family='"DejaVu Sans", "Liberation Sans", sans-serif' font-size="16.7" font-weight="normal" fill="#050505">to 2.5 times the control while on chronic warfarin therapy. PMID: 3816546</text>
<g id="logo">
<path d="M25.9 733.3L28 733.3L28 762.7C36 762.7 43 763.3 47.8 765.4L56 765.4C60.8 763.3 67.8 762.7 75.8 762.7L75.8 733.3L77.9 733.3L77.9 766.2C68 765.3 61 765.8 56.8 767.2Q51.9 771.6 47 767.2C42.8 765.8 36 765.3 25.9 766.2Z" fill="#2b2f33"/>
<path d="M30.5 728.2C38 728.5 46 730.5 51.3 735.2L51.3 764.9C46 761.8 38 761 30.5 760.8Z" fill="#2b2f33"/>
<path d="M73.3 728.2C65.8 728.5 57.8 730.5 52.5 735.2L52.5 764.9C57.8 761.8 65.8 761 73.3 760.8Z" fill="#2b2f33"/>
<path d="M51.05 746L52.8 746L52.8 764.9L51.05 764.9Z" fill="#e8e8e8"/>
<path d="M51.9 734.3C54.5 738 57.3 740.8 57.3 743.2A5.4 5.4 0 0 1 46.5 743.2C46.5 740.8 49.3 738 51.9 734.3Z" fill="#ffffff"/>
<path d="M51.9 735.9C53.8 738.8 55.9 741.2 55.9 743.2A4 4 0 0 1 47.9 743.2C47.9 741.2 50 738.8 51.9 735.9Z" fill="#d0453e"/>
<text id="t_TheBloodProject_750" x="87.82" y="750.2" textLength="188.81" lengthAdjust="spacingAndGlyphs" font-family='"Liberation Serif", "Times New Roman", serif' font-size="23.4" font-weight="bold" fill="#050505"><tspan fill="#2d3136">The </tspan><tspan fill="#d0423b">Blood</tspan><tspan fill="#2d3136"> Project</tspan></text>
<text id="t_ENCYCLOPEDIAOFBLOOD_763" x="90.85" y="762.7" textLength="133.39" lengthAdjust="spacing" font-family='"Liberation Sans", Arial, sans-serif' font-size="6.6" font-weight="bold" fill="#b4b4b4">ENCYCLOPEDIA OF BLOOD</text>
</g>
</svg>
</body></html>
